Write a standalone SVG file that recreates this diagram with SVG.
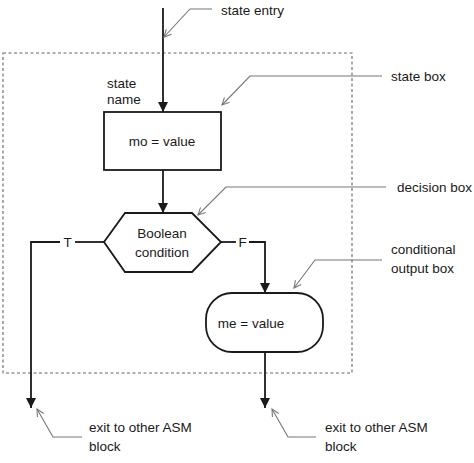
<svg xmlns="http://www.w3.org/2000/svg" width="474" height="463" viewBox="0 0 474 463">
<defs>
<style>
text{font-family:"Liberation Sans",Arial,sans-serif;font-size:13.5px;fill:#1a1a1a}
.main{fill:none;stroke:#1a1a1a;stroke-width:1.8}
.shape{fill:#fff;stroke:#1a1a1a;stroke-width:1.8}
.note{fill:none;stroke:#777;stroke-width:1.1}
.frame{fill:none;stroke:#666;stroke-width:1.1;stroke-dasharray:3 2.5}
</style>
<marker id="ah" viewBox="0 0 10 10" refX="10" refY="5" markerWidth="10" markerHeight="10" markerUnits="userSpaceOnUse" orient="auto">
<path d="M0,0 L10,5 L0,10 z" fill="#1a1a1a"/>
</marker>
<marker id="oh" viewBox="0 0 10 10" refX="9" refY="5" markerWidth="9" markerHeight="9" markerUnits="userSpaceOnUse" orient="auto">
<path d="M1,1 L9,5 L1,9" fill="none" stroke="#777" stroke-width="1.2"/>
</marker>
</defs>
<rect class="frame" x="3" y="53" width="349" height="320"/>
<g id="connectors">
<line class="main" x1="163" y1="8" x2="163" y2="112" marker-end="url(#ah)"/>
<line class="main" x1="163" y1="170" x2="163" y2="213" marker-end="url(#ah)"/>
<polyline class="main" points="104,242 75,242"/>
<polyline class="main" points="60,242 31,242 31,408" marker-end="url(#ah)"/>
<text x="67.5" y="247" text-anchor="middle">T</text>
<polyline class="main" points="221,242 236,242"/>
<polyline class="main" points="249,242 265,242 265,293" marker-end="url(#ah)"/>
<text x="242.5" y="247" text-anchor="middle">F</text>
<line class="main" x1="265" y1="352" x2="265" y2="408" marker-end="url(#ah)"/>
</g>
<g id="state_box">
<rect class="shape" x="104" y="112" width="117" height="58"/>
<text x="162" y="146" text-anchor="middle">mo = value</text>
<text x="107" y="88">state</text>
<text x="107" y="104">name</text>
</g>
<g id="decision_box">
<polygon class="shape" points="125,213 192,213 221,242 192,272 125,272 104,242"/>
<text x="162" y="238" text-anchor="middle">Boolean</text>
<text x="162" y="257" text-anchor="middle">condition</text>
</g>
<g id="conditional_output_box">
<rect class="shape" x="206" y="293" width="117" height="59" rx="26" ry="26"/>
<text x="251" y="328" text-anchor="middle">me = value</text>
</g>
<g id="annotations">
<polyline class="note" points="212,9 190,9 164,37" marker-end="url(#oh)"/>
<text x="221" y="15">state entry</text>
<polyline class="note" points="382,76 250,76 222,105" marker-end="url(#oh)"/>
<text x="391" y="81">state box</text>
<polyline class="note" points="386,187 226,187 198,215" marker-end="url(#oh)"/>
<text x="397" y="192">decision box</text>
<polyline class="note" points="382,260 315,260 294,288" marker-end="url(#oh)"/>
<text x="391" y="254">conditional</text>
<text x="391" y="273">output box</text>
<polyline class="note" points="82,437 53,437 37,409" marker-end="url(#oh)"/>
<text x="89" y="432">exit to other ASM</text>
<text x="89" y="451">block</text>
<polyline class="note" points="316,437 288,437 272,409" marker-end="url(#oh)"/>
<text x="325" y="432">exit to other ASM</text>
<text x="325" y="451">block</text>
</g>
</svg>
